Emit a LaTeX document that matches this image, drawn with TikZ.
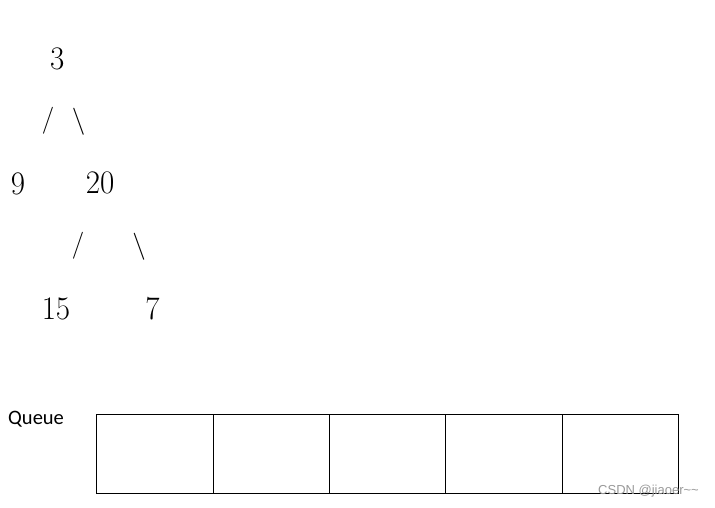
\documentclass[tikz,border=0pt]{standalone}
\usepackage{fontspec}
\newfontfamily\qfont{Carlito}
\newfontfamily\wmfont{Liberation Sans}
\begin{document}
\begin{tikzpicture}[x=1pt,y=-1pt,
  num/.style={inner sep=0pt,yscale=1.06,font=\fontsize{31}{36}\selectfont},
  edgech/.style={inner sep=0pt,font=\fontsize{27}{30}\selectfont},
  cell/.style={draw,line width=0.8pt}]
\useasboundingbox[fill=white] (0,0) rectangle (715,507);
% tree values
\node[num] (n3)  at (57.3,58.8) {3};
\node[num] (n9)  at (18,183.5) {9};
\node[num] (n20) at (100,183.3) {20};
\node[num] (n15) at (56,308.5) {15};
\node[num] (n7)  at (152.5,309) {7};
% edge characters
\node[edgech] (e1) at (48,121) {/};
\node[edgech] (e2) at (78.5,121.5) {\textbackslash};
\node[edgech] (e3) at (78,245.5) {/};
\node[edgech] (e4) at (139,246.5) {\textbackslash};
% queue
\node[anchor=base west,inner sep=0pt,font=\qfont\fontsize{20.5}{22}\selectfont] (ql) at (8,424) {Queue};
\foreach \i/\a/\b in {1/96/213,2/213/329,3/329/445,4/445/562,5/562/678}{
  \draw[cell] (\a,414) rectangle (\b,493);
}
% watermark
\node[anchor=base west,inner sep=0pt,text=black!40,font=\wmfont\fontsize{13}{15}\selectfont] (wm) at (598,494.5) {CSDN @jiaoer\textasciitilde\textasciitilde};
\end{tikzpicture}
\end{document}
